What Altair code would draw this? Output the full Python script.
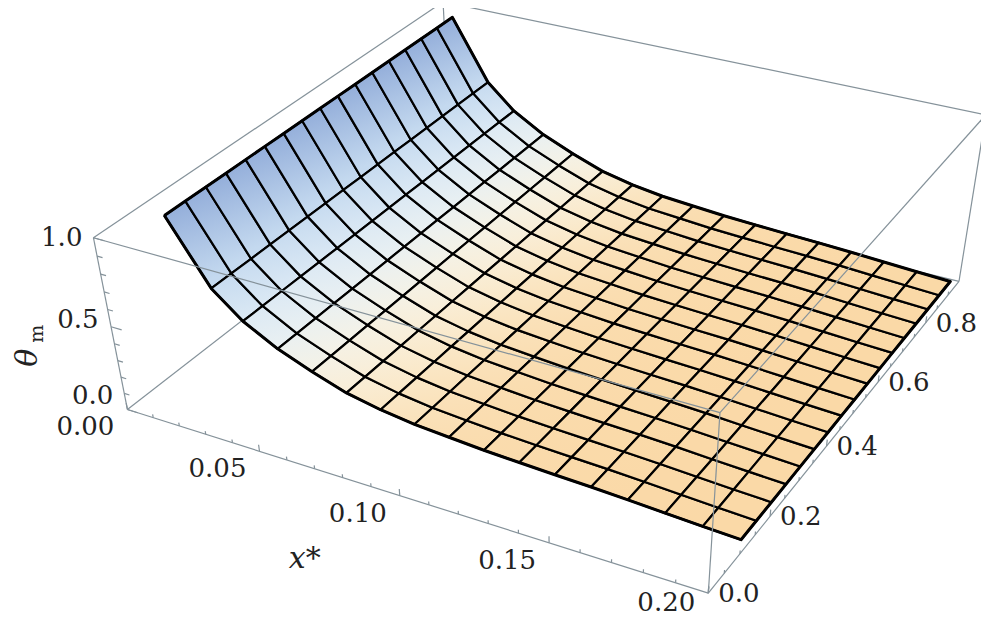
import numpy as np
import altair as alt

# ---------------- data ----------------
# surface theta_m(x*) (independent of y), at the mesh positions along x*
x_star = [0.01, 0.0235, 0.0338, 0.0456, 0.0575, 0.0694, 0.0813, 0.0931, 0.105,
          0.1169, 0.1288, 0.1406, 0.1525, 0.1644, 0.1763, 0.1881, 0.2]
theta_m = [1.0, 0.65, 0.507, 0.40, 0.322, 0.254, 0.213, 0.186, 0.17,
           0.155, 0.145, 0.136, 0.128, 0.118, 0.106, 0.095, 0.085]
y_mesh = [0.10, 0.15, 0.20, 0.25, 0.30, 0.35, 0.40, 0.45, 0.50,
          0.55, 0.60, 0.65, 0.70, 0.75, 0.80, 0.85, 0.90]

x_ticks = [0.00, 0.05, 0.10, 0.15, 0.20]
x_tick_labels = ["0.00", "0.05", "0.10", "0.15", "0.20"]
x_minor = [0.01, 0.02, 0.03, 0.04, 0.06, 0.07, 0.08, 0.09, 0.11, 0.12,
           0.13, 0.14, 0.16, 0.17, 0.18, 0.19]
y_ticks = [0.0, 0.2, 0.4, 0.6, 0.8]
y_tick_labels = ["0.0", "0.2", "0.4", "0.6", "0.8"]
y_minor = [0.05, 0.10, 0.15, 0.25, 0.30, 0.35, 0.45, 0.50, 0.55, 0.65,
           0.70, 0.75, 0.85, 0.90]
z_ticks = [0.0, 0.5, 1.0]
z_tick_labels = ["0.0", "0.5", "1.0"]
z_minor = [0.1, 0.2, 0.3, 0.4, 0.6, 0.7, 0.8, 0.9]

x_range = [0.0, 0.2]
y_range = [0.0, 0.95]
z_range = [0.0, 1.0]

# ---------------- layout / style ----------------
# pixel positions of the box corners (normalised box coords -> page px)
BOX_CORNERS = [((0, 0, 0), (127, 410)), ((0, 0, 1), (94, 237)),
               ((1, 0, 0), (710, 593)), ((1, 0, 1), (718, 413)),
               ((1, 1, 0), (958, 281)), ((1, 1, 1), (987, 115)),
               ((0, 1, 1), (443, 2))]
ROW_NODE_COLORS = ["#8FAAD8", "#C4D9EF", "#DAE8F4", "#E9F0F2", "#F4F2E7",
                   "#F9EED8", "#FAE8C8", "#FAE2BB", "#FADEB3", "#FADCAE",
                   "#FADBAC", "#FADAAA", "#FADAA9", "#FAD9A8", "#FAD9A8",
                   "#FAD9A7", "#FAD9A7"]
EDGE = "#85929A"
FONT = "DejaVu Serif"
FS = 26
VIEW_BOTTOM = 603   # keep label centres inside the drawing area
VIEW_RIGHT = 978


def fit_camera():
    p3 = np.array([c[0] for c in BOX_CORNERS], float)
    p2 = np.array([c[1] for c in BOX_CORNERS], float)
    m = p2.mean(0)
    s = np.sqrt(2) / np.mean(np.linalg.norm(p2 - m, axis=1))
    T = np.array([[s, 0, -s * m[0]], [0, s, -s * m[1]], [0, 0, 1]])
    pn = (p2 - m) * s
    rows = []
    for (X, Y, Z), (u, v) in zip(p3, pn):
        rows.append([X, Y, Z, 1, 0, 0, 0, 0, -u * X, -u * Y, -u * Z, -u])
        rows.append([0, 0, 0, 0, X, Y, Z, 1, -v * X, -v * Y, -v * Z, -v])
    _, _, vt = np.linalg.svd(np.array(rows))
    return np.linalg.inv(T) @ vt[-1].reshape(3, 4)


CAM = fit_camera()


def proj(x, y, z):
    X = (x - x_range[0]) / (x_range[1] - x_range[0])
    Y = (y - y_range[0]) / (y_range[1] - y_range[0])
    Z = (z - z_range[0]) / (z_range[1] - z_range[0])
    h = CAM @ np.array([X, Y, Z, 1.0])
    return [float(h[0] / h[2]), float(h[1] / h[2])]


def feat(kind, coords):
    return {"type": "Feature", "geometry": {"type": kind, "coordinates": coords},
            "properties": {}}


def seg(a, b):
    return feat("LineString", [proj(*a), proj(*b)])


x0, x1 = x_range
y0, y1 = y_range
z0, z1 = z_range

hidden_edges = [seg((x0, y0, z0), (x0, y1, z0)), seg((x0, y1, z0), (x1, y1, z0)),
                seg((x0, y1, z0), (x0, y1, z1))]
visible_edges = [seg((x0, y0, z0), (x0, y0, z1)), seg((x0, y0, z0), (x1, y0, z0)),
                 seg((x0, y0, z1), (x1, y0, z1)), seg((x1, y0, z0), (x1, y0, z1)),
                 seg((x1, y0, z0), (x1, y1, z0)), seg((x1, y0, z1), (x1, y1, z1)),
                 seg((x1, y1, z0), (x1, y1, z1)), seg((x0, y0, z1), (x0, y1, z1)),
                 seg((x0, y1, z1), (x1, y1, z1))]

ticks = []
for v in z_ticks:
    ticks.append(seg((x0, y0, v), (x0 + 0.004, y0, v)))
for v in z_minor:
    ticks.append(seg((x0, y0, v), (x0 + 0.002, y0, v)))
for v in x_ticks:
    ticks.append(seg((v, y0, z0), (v, y0, z0 + 0.04)))
for v in x_minor:
    ticks.append(seg((v, y0, z0), (v, y0, z0 + 0.02)))
for v in y_ticks:
    ticks.append(seg((x1, v, z0), (x1, v, z0 + 0.04)))
for v in y_minor:
    ticks.append(seg((x1, v, z0), (x1, v, z0 + 0.02)))

PROJ = alt.Projection(type="identity", scale=1, translate=[-8, -8])


def shape_layer(features, **mark):
    return alt.Chart(alt.Data(values=features)).mark_geoshape(**mark)


layers = [shape_layer(hidden_edges, filled=False, stroke=EDGE, strokeWidth=1.2)]

# surface cells, one layer per x*-row with a gradient fill
nx = len(x_star) - 1
ny = len(y_mesh) - 1
for i in range(nx):
    cells = []
    for j in range(ny):
        ring = [proj(x_star[i], y_mesh[j], theta_m[i]),
                proj(x_star[i], y_mesh[j + 1], theta_m[i]),
                proj(x_star[i + 1], y_mesh[j + 1], theta_m[i + 1]),
                proj(x_star[i + 1], y_mesh[j], theta_m[i + 1])]
        ring.append(ring[0])
        cells.append(feat("Polygon", [ring]))
    grad = alt.LinearGradient(
        gradient="linear",
        stops=[alt.GradientStop(offset=0, color=ROW_NODE_COLORS[i]),
               alt.GradientStop(offset=1, color=ROW_NODE_COLORS[i + 1])],
        x1=0, y1=0, x2=0.25, y2=1)
    layers.append(shape_layer(cells, fill=grad, stroke="black", strokeWidth=2.2,
                              strokeJoin="round"))

# thick outline of the surface
outline = [proj(x_star[i], y_mesh[0], theta_m[i]) for i in range(nx + 1)]
outline += [proj(x_star[-1], y_mesh[j], theta_m[-1]) for j in range(1, ny + 1)]
outline += [proj(x_star[i], y_mesh[-1], theta_m[i]) for i in range(nx - 1, -1, -1)]
outline += [proj(x_star[0], y_mesh[j], theta_m[0]) for j in range(ny - 1, -1, -1)]
layers.append(shape_layer([feat("LineString", outline)], filled=False,
                          stroke="black", strokeWidth=3.0, strokeJoin="round"))

layers.append(shape_layer(visible_edges, filled=False, stroke=EDGE, strokeWidth=1.2))
layers.append(shape_layer(ticks, filled=False, stroke=EDGE, strokeWidth=1.2))


def text_layer(rows, size=FS, **mark):
    return alt.Chart(alt.Data(values=rows)).mark_text(
        font=FONT, fontSize=size, baseline="middle", color="#222222", **mark).encode(
        longitude="lon:Q", latitude="lat:Q", text="t:N")


def at(p, dx, dy, t):
    return {"lon": min(p[0] + dx, VIEW_RIGHT), "lat": min(p[1] + dy, VIEW_BOTTOM),
            "t": t}


x_lab = [at(proj(v, y0, z0), -42, 18, t) for v, t in zip(x_ticks, x_tick_labels)]
y_lab = [at(proj(x1, v, z0), 10, 1, t) for v, t in zip(y_ticks, y_tick_labels)]
z_lab = [at(proj(x0, y0, v), -14 + 3 * v, -13 + 13 * v, t)
         for v, t in zip(z_ticks, z_tick_labels)]

layers.append(text_layer(x_lab, align="center"))
layers.append(text_layer(y_lab, align="left"))
layers.append(text_layer(z_lab, align="right"))

mid_x = proj((x0 + x1) / 2, y0, z0)
layers.append(text_layer([at(mid_x, -95, 63, "x*")], size=30, align="center",
                         fontStyle="italic"))
mid_z = proj(x0, y0, (z0 + z1) / 2)
layers.append(text_layer([at(mid_z, -83, 31, "θ")], size=30, align="center",
                         fontStyle="italic", angle=270))
layers.append(text_layer([at(mid_z, -74, 7, "m")], size=19, align="center",
                         angle=270))

chart = alt.layer(*layers).properties(
    width=973, height=611, padding=0, projection=PROJ, background="white"
).configure_view(strokeWidth=0)

chart.save("out.html", embed_options={"renderer": "svg", "actions": False})
